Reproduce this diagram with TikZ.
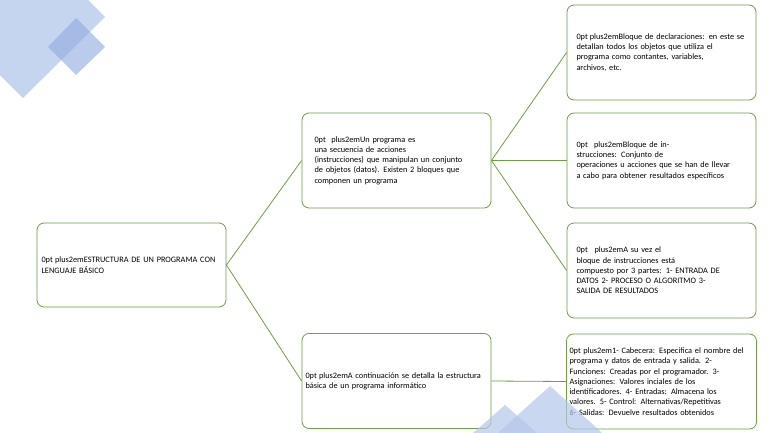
\documentclass[tikz,border=0pt]{standalone}
\usepackage{fontspec}
\setmainfont{Carlito}
\definecolor{gline}{HTML}{6E9E45}
\definecolor{deco}{HTML}{B4C7EA}
\definecolor{deco2}{HTML}{8FA9DF}
\begin{document}
\begin{tikzpicture}[x=1pt,y=-1pt,
  box/.style={draw=gline, line width=0.8pt, rounded corners=7pt, fill=white, align=center, font=\fontsize{8.3}{10.3}\selectfont\hyphenpenalty=10000\relax\exhyphenpenalty=10000\relax, inner sep=3pt},
  link/.style={draw=gline, line width=0.8pt}]
\useasboundingbox (0,0) rectangle (768,433);
\fill[white] (0,0) rectangle (768,433);
% decorations
\fill[deco, opacity=0.75] (23,-65) -- (105,17) -- (23,98) -- (-59,17) -- cycle;
\fill[deco2, opacity=0.6] (76,18) -- (105,47) -- (76,75) -- (48,47) -- cycle;
% nodes
\node[box, minimum width=189pt, minimum height=84pt, text width=180pt] (a) at (131.5,265) {ESTRUCTURA DE UN PROGRAMA CON\\LENGUAJE BÁSICO};
\node[box, minimum width=189pt, minimum height=95pt, text width=164pt] (b) at (396.5,160.5) {Un programa es una secuencia de acciones\\(instrucciones) que manipulan un conjunto\\de objetos (datos). Existen 2 bloques que\\componen un programa};
\node[box, minimum width=189pt, minimum height=95pt, text width=182pt] (c) at (396.5,381) {A continuación se detalla la estructura\\básica de un programa informático};
\node[box, minimum width=189pt, minimum height=95pt, text width=170pt] (r1) at (661.5,52.5) {Bloque de declaraciones: en este se\\detallan todos los objetos que utiliza el\\programa como contantes, variables,\\archivos, etc.};
\node[box, minimum width=189pt, minimum height=95pt, text width=170pt] (r2) at (661.5,160.5) {Bloque de instrucciones: Conjunto de\\operaciones u acciones que se han de llevar\\a cabo para obtener resultados específicos};
\node[box, minimum width=189pt, minimum height=95pt, text width=170pt] (r3) at (661.5,270.5) {A su vez el bloque de instrucciones está\\compuesto por 3 partes: 1- ENTRADA DE\\DATOS 2- PROCESO O ALGORITMO 3-\\SALIDA DE RESULTADOS};
\node[box, minimum width=189pt, minimum height=95pt, text width=184pt] (r4) at (661.5,381.5) {1- Cabecera: Especifica el nombre del\\programa y datos de entrada y salida. 2-\\Funciones: Creadas por el programador. 3-\\Asignaciones: Valores inciales de los\\identificadores. 4- Entradas: Almacena los\\valores. 5- Control: Alternativas/Repetitivas\\6- Salidas: Devuelve resultados obtenidos};
% links
\draw[link] (a.east) -- (b.west);
\draw[link] (a.east) -- (c.west);
\draw[link] (b.east) -- (r1.west);
\draw[link] (b.east) -- (r2.west);
\draw[link] (b.east) -- (r3.west);
\draw[link] (c.east) -- (r4.west);
% bottom decorations
\fill[deco, opacity=0.7] (550,386) -- (610,440) -- (490,440) -- cycle;
\fill[deco, opacity=0.7] (505,405) -- (545,440) -- (465,440) -- cycle;
\end{tikzpicture}
\end{document}
